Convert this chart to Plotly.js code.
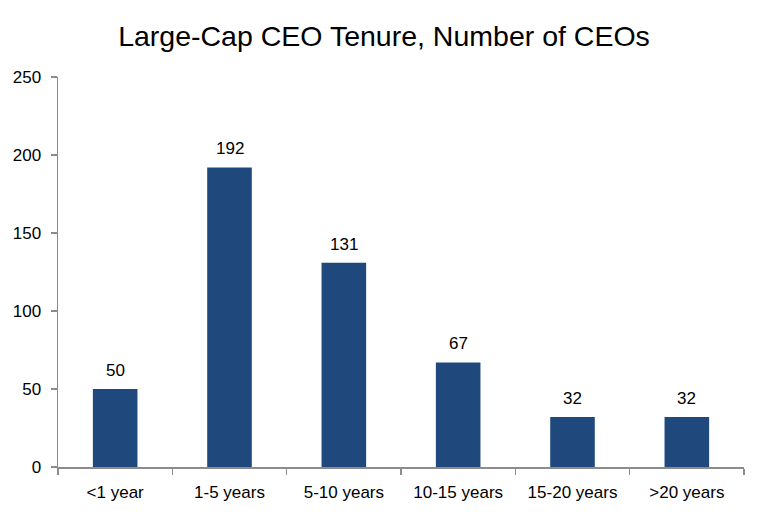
<!DOCTYPE html>
<html>
<head>
<meta charset="utf-8">
<script src="https://cdn.plot.ly/plotly-3.0.1.min.js"></script>
<style>
  html, body { margin: 0; padding: 0; background: #fff; }
  #chart { width: 768px; height: 512px; }
</style>
</head>
<body>
<div id="chart"></div>
<script>
// Tenure buckets and CEO counts
var categories = ['<1 year', '1-5 years', '5-10 years', '10-15 years', '15-20 years', '>20 years'];
var ceoCounts = [50, 192, 131, 67, 32, 32];
var yTicks = [0, 50, 100, 150, 200, 250];

var barColor = '#1f497d';
var axisColor = '#8c8c8c';
var fontFamily = "'Liberation Sans', Arial, Helvetica, sans-serif";

var trace = {
    type: 'bar',
    x: categories,
    y: ceoCounts,
    width: 0.39,
    marker: { color: barColor },
    hoverinfo: 'x+y'
};

// Value labels sit a little above each bar
var labels = categories.map(function(cat, i) {
    return {
        x: cat,
        y: ceoCounts[i],
        text: String(ceoCounts[i]),
        showarrow: false,
        yanchor: 'bottom',
        yshift: 7,
        font: { family: fontFamily, size: 17, color: '#000' }
    };
});

var layout = {
    width: 768,
    height: 512,
    paper_bgcolor: '#fff',
    plot_bgcolor: '#fff',
    margin: { t: 77, r: 24, b: 45, l: 58 },
    showlegend: false,
    font: { family: fontFamily, size: 17, color: '#000' },
    title: {
        text: 'Large-Cap CEO Tenure, Number of CEOs',
        font: { family: fontFamily, size: 28.5, color: '#000' },
        x: 0.5,
        xanchor: 'center',
        y: 0.93,
        yanchor: 'middle'
    },
    xaxis: {
        type: 'category',
        showgrid: false,
        showline: true,
        linecolor: axisColor,
        linewidth: 1.5,
        ticks: 'outside',
        tickson: 'boundaries',
        ticklen: 6,
        tickcolor: axisColor,
        tickwidth: 1.5,
        ticklabelstandoff: 9,
        tickfont: { family: fontFamily, size: 17, color: '#000' }
    },
    yaxis: {
        range: [0, 250],
        tickvals: yTicks,
        showgrid: false,
        zeroline: false,
        showline: true,
        linecolor: axisColor,
        linewidth: 1.5,
        ticks: 'outside',
        ticklen: 6,
        tickcolor: axisColor,
        tickwidth: 1.5,
        ticklabelstandoff: 6,
        tickfont: { family: fontFamily, size: 17, color: '#000' }
    },
    annotations: labels
};

Plotly.newPlot('chart', [trace], layout, { displayModeBar: false, staticPlot: true });
</script>
</body>
</html>
